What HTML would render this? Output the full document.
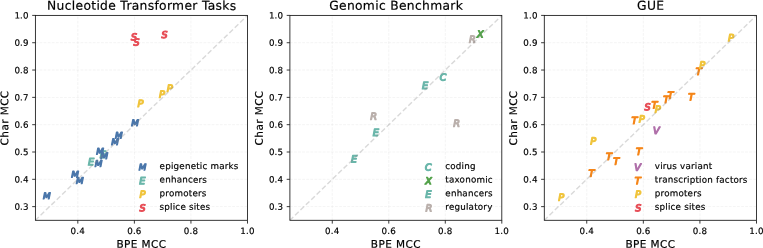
<!DOCTYPE html>
<html lang="en"><head><meta charset="utf-8"><title>MCC comparison</title>
<style>.cM{fill:#4a76aa;stroke:#4a76aa}.cE{fill:#6ab6aa;stroke:#6ab6aa}.cP{fill:#f0c43c;stroke:#f0c43c}.cS{fill:#e74f58;stroke:#e74f58}.cC{fill:#6ab6aa;stroke:#6ab6aa}.cX{fill:#54a24b;stroke:#54a24b}.cR{fill:#bab0ac;stroke:#bab0ac}.cT{fill:#f58518;stroke:#f58518}.cV{fill:#b070aa;stroke:#b070aa}</style>
<style>html,body{margin:0;padding:0;background:#fff}svg{display:block}text{font-family:"DejaVu Sans","Liberation Sans",sans-serif;fill:#000}.tk,.lg,.ti,.lb{stroke:#000;stroke-width:.18px}.tk{font-size:8.7px;letter-spacing:0.2px}.lg{font-size:8.75px;letter-spacing:0.2px}.ti{font-size:12.3px;letter-spacing:0.32px}.lb{font-size:10.5px;letter-spacing:0.4px}.mk{font-style:oblique;stroke-width:1.2;stroke-linejoin:round}.sp{fill:none;stroke:#161616;stroke-width:0.85}.gr{stroke:#c0c0c0;stroke-width:0.7;stroke-dasharray:2.8 1.3;opacity:0.25}.tkm{stroke:#161616;stroke-width:0.85}.dg{stroke:rgba(128,128,128,0.30);stroke-width:1.4;stroke-dasharray:5.0 2.5;fill:none}</style></head><body>
<svg width="763" height="248" viewBox="0 0 763 248">
<rect width="763" height="248" fill="#fff"/>
<g>
<line class="gr" x1="77.82" x2="77.82" y1="220.30" y2="15.40"/>
<line class="gr" x1="134.38" x2="134.38" y1="220.30" y2="15.40"/>
<line class="gr" x1="190.94" x2="190.94" y1="220.30" y2="15.40"/>
<line class="gr" x1="35.40" x2="247.50" y1="206.64" y2="206.64"/>
<line class="gr" x1="35.40" x2="247.50" y1="179.32" y2="179.32"/>
<line class="gr" x1="35.40" x2="247.50" y1="152.00" y2="152.00"/>
<line class="gr" x1="35.40" x2="247.50" y1="124.68" y2="124.68"/>
<line class="gr" x1="35.40" x2="247.50" y1="97.36" y2="97.36"/>
<line class="gr" x1="35.40" x2="247.50" y1="70.04" y2="70.04"/>
<line class="gr" x1="35.40" x2="247.50" y1="42.72" y2="42.72"/>
<text class="mk cE" transform="translate(88.08 165.17) skewY(0.05)" font-size="9.81">E</text>
<text class="mk cE" transform="translate(99.68 157.88) skewY(0.05)" font-size="9.81">E</text>
<text class="mk cM" transform="translate(42.89 198.92) skewY(0.05)" font-size="8.84">M</text>
<text class="mk cM" transform="translate(71.19 177.42) skewY(0.05)" font-size="8.84">M</text>
<text class="mk cM" transform="translate(75.99 183.72) skewY(0.05)" font-size="8.84">M</text>
<text class="mk cM" transform="translate(94.79 166.82) skewY(0.05)" font-size="8.84">M</text>
<text class="mk cM" transform="translate(96.29 154.42) skewY(0.05)" font-size="8.84">M</text>
<text class="mk cM" transform="translate(100.49 159.12) skewY(0.05)" font-size="8.84">M</text>
<text class="mk cM" transform="translate(111.29 145.02) skewY(0.05)" font-size="8.84">M</text>
<text class="mk cM" transform="translate(114.89 138.52) skewY(0.05)" font-size="8.84">M</text>
<text class="mk cM" transform="translate(131.19 125.92) skewY(0.05)" font-size="8.84">M</text>
<text class="mk cP" transform="translate(137.62 106.98) skewY(0.05)" font-size="9.81">P</text>
<text class="mk cP" transform="translate(159.02 97.78) skewY(0.05)" font-size="9.81">P</text>
<text class="mk cP" transform="translate(166.82 91.78) skewY(0.05)" font-size="9.81">P</text>
<text class="mk cS" transform="translate(131.12 40.34) skewY(0.05)" font-size="9.45">S</text>
<text class="mk cS" transform="translate(133.62 45.44) skewY(0.05)" font-size="9.45">S</text>
<text class="mk cS" transform="translate(161.42 37.94) skewY(0.05)" font-size="9.45">S</text>
<line class="dg" x1="35.40" y1="220.30" x2="247.50" y2="15.40" stroke-dashoffset="0.3"/>
<rect class="sp" x="35.40" y="15.40" width="212.10" height="204.90"/>
<line class="tkm" x1="77.82" x2="77.82" y1="220.30" y2="223.60"/>
<text class="tk" transform="translate(77.82 234.00) skewY(0.05)" text-anchor="middle">0.4</text>
<line class="tkm" x1="134.38" x2="134.38" y1="220.30" y2="223.60"/>
<text class="tk" transform="translate(134.38 234.00) skewY(0.05)" text-anchor="middle">0.6</text>
<line class="tkm" x1="190.94" x2="190.94" y1="220.30" y2="223.60"/>
<text class="tk" transform="translate(190.94 234.00) skewY(0.05)" text-anchor="middle">0.8</text>
<line class="tkm" x1="247.50" x2="247.50" y1="220.30" y2="223.60"/>
<text class="tk" transform="translate(247.50 234.00) skewY(0.05)" text-anchor="middle">1.0</text>
<line class="tkm" x1="32.20" x2="35.40" y1="206.64" y2="206.64"/>
<text class="tk" transform="translate(28.80 209.74) skewY(0.05)" text-anchor="end">0.3</text>
<line class="tkm" x1="32.20" x2="35.40" y1="179.32" y2="179.32"/>
<text class="tk" transform="translate(28.80 182.42) skewY(0.05)" text-anchor="end">0.4</text>
<line class="tkm" x1="32.20" x2="35.40" y1="152.00" y2="152.00"/>
<text class="tk" transform="translate(28.80 155.10) skewY(0.05)" text-anchor="end">0.5</text>
<line class="tkm" x1="32.20" x2="35.40" y1="124.68" y2="124.68"/>
<text class="tk" transform="translate(28.80 127.78) skewY(0.05)" text-anchor="end">0.6</text>
<line class="tkm" x1="32.20" x2="35.40" y1="97.36" y2="97.36"/>
<text class="tk" transform="translate(28.80 100.46) skewY(0.05)" text-anchor="end">0.7</text>
<line class="tkm" x1="32.20" x2="35.40" y1="70.04" y2="70.04"/>
<text class="tk" transform="translate(28.80 73.14) skewY(0.05)" text-anchor="end">0.8</text>
<line class="tkm" x1="32.20" x2="35.40" y1="42.72" y2="42.72"/>
<text class="tk" transform="translate(28.80 45.82) skewY(0.05)" text-anchor="end">0.9</text>
<line class="tkm" x1="32.20" x2="35.40" y1="15.40" y2="15.40"/>
<text class="tk" transform="translate(28.80 18.50) skewY(0.05)" text-anchor="end">1.0</text>
<text class="lb" transform="translate(141.45 247.70) skewY(0.05)" text-anchor="middle">BPE MCC</text>
<text class="lb" transform="translate(8.20 117.90) rotate(-90) skewY(0.05)" text-anchor="middle">Char MCC</text>
<text class="ti" transform="translate(141.75 9.80) skewY(0.05)" text-anchor="middle">Nucleotide Transformer Tasks</text>
<text class="mk cM" transform="translate(138.69 170.32) skewY(0.05)" font-size="8.84">M</text>
<text class="lg" transform="translate(159.60 169.00) skewY(0.05)" text-anchor="start">epigenetic marks</text>
<text class="mk cE" transform="translate(139.28 184.27) skewY(0.05)" font-size="9.81">E</text>
<text class="lg" transform="translate(159.60 182.60) skewY(0.05)" text-anchor="start">enhancers</text>
<text class="mk cP" transform="translate(139.42 197.87) skewY(0.05)" font-size="9.81">P</text>
<text class="lg" transform="translate(159.60 196.20) skewY(0.05)" text-anchor="start">promoters</text>
<text class="mk cS" transform="translate(139.62 211.34) skewY(0.05)" font-size="9.45">S</text>
<text class="lg" transform="translate(159.60 209.80) skewY(0.05)" text-anchor="start">splice sites</text>
</g>
<g>
<line class="gr" x1="332.28" x2="332.28" y1="220.30" y2="15.40"/>
<line class="gr" x1="388.79" x2="388.79" y1="220.30" y2="15.40"/>
<line class="gr" x1="445.29" x2="445.29" y1="220.30" y2="15.40"/>
<line class="gr" x1="289.90" x2="501.80" y1="206.64" y2="206.64"/>
<line class="gr" x1="289.90" x2="501.80" y1="179.32" y2="179.32"/>
<line class="gr" x1="289.90" x2="501.80" y1="152.00" y2="152.00"/>
<line class="gr" x1="289.90" x2="501.80" y1="124.68" y2="124.68"/>
<line class="gr" x1="289.90" x2="501.80" y1="97.36" y2="97.36"/>
<line class="gr" x1="289.90" x2="501.80" y1="70.04" y2="70.04"/>
<line class="gr" x1="289.90" x2="501.80" y1="42.72" y2="42.72"/>
<text class="mk cC" transform="translate(439.72 80.54) skewY(0.05)" font-size="9.45">C</text>
<text class="mk cX" transform="translate(476.94 37.39) skewY(0.05)" font-size="9.58">X</text>
<text class="mk cE" transform="translate(422.08 89.08) skewY(0.05)" font-size="9.81">E</text>
<text class="mk cE" transform="translate(372.78 136.07) skewY(0.05)" font-size="9.81">E</text>
<text class="mk cE" transform="translate(350.98 162.57) skewY(0.05)" font-size="9.81">E</text>
<text class="mk cR" transform="translate(469.03 42.78) skewY(0.05)" font-size="9.81">R</text>
<text class="mk cR" transform="translate(370.23 119.67) skewY(0.05)" font-size="9.81">R</text>
<text class="mk cR" transform="translate(453.23 126.67) skewY(0.05)" font-size="9.81">R</text>
<line class="dg" x1="289.90" y1="220.30" x2="501.80" y2="15.40" stroke-dashoffset="0.3"/>
<rect class="sp" x="289.90" y="15.40" width="211.90" height="204.90"/>
<line class="tkm" x1="332.28" x2="332.28" y1="220.30" y2="223.60"/>
<text class="tk" transform="translate(332.28 234.00) skewY(0.05)" text-anchor="middle">0.4</text>
<line class="tkm" x1="388.79" x2="388.79" y1="220.30" y2="223.60"/>
<text class="tk" transform="translate(388.79 234.00) skewY(0.05)" text-anchor="middle">0.6</text>
<line class="tkm" x1="445.29" x2="445.29" y1="220.30" y2="223.60"/>
<text class="tk" transform="translate(445.29 234.00) skewY(0.05)" text-anchor="middle">0.8</text>
<line class="tkm" x1="501.80" x2="501.80" y1="220.30" y2="223.60"/>
<text class="tk" transform="translate(501.80 234.00) skewY(0.05)" text-anchor="middle">1.0</text>
<line class="tkm" x1="286.70" x2="289.90" y1="206.64" y2="206.64"/>
<text class="tk" transform="translate(283.30 209.74) skewY(0.05)" text-anchor="end">0.3</text>
<line class="tkm" x1="286.70" x2="289.90" y1="179.32" y2="179.32"/>
<text class="tk" transform="translate(283.30 182.42) skewY(0.05)" text-anchor="end">0.4</text>
<line class="tkm" x1="286.70" x2="289.90" y1="152.00" y2="152.00"/>
<text class="tk" transform="translate(283.30 155.10) skewY(0.05)" text-anchor="end">0.5</text>
<line class="tkm" x1="286.70" x2="289.90" y1="124.68" y2="124.68"/>
<text class="tk" transform="translate(283.30 127.78) skewY(0.05)" text-anchor="end">0.6</text>
<line class="tkm" x1="286.70" x2="289.90" y1="97.36" y2="97.36"/>
<text class="tk" transform="translate(283.30 100.46) skewY(0.05)" text-anchor="end">0.7</text>
<line class="tkm" x1="286.70" x2="289.90" y1="70.04" y2="70.04"/>
<text class="tk" transform="translate(283.30 73.14) skewY(0.05)" text-anchor="end">0.8</text>
<line class="tkm" x1="286.70" x2="289.90" y1="42.72" y2="42.72"/>
<text class="tk" transform="translate(283.30 45.82) skewY(0.05)" text-anchor="end">0.9</text>
<line class="tkm" x1="286.70" x2="289.90" y1="15.40" y2="15.40"/>
<text class="tk" transform="translate(283.30 18.50) skewY(0.05)" text-anchor="end">1.0</text>
<text class="lb" transform="translate(395.85 247.70) skewY(0.05)" text-anchor="middle">BPE MCC</text>
<text class="lb" transform="translate(262.70 117.90) rotate(-90) skewY(0.05)" text-anchor="middle">Char MCC</text>
<text class="ti" transform="translate(396.15 9.80) skewY(0.05)" text-anchor="middle">Genomic Benchmark</text>
<text class="mk cC" transform="translate(425.02 170.54) skewY(0.05)" font-size="9.45">C</text>
<text class="lg" transform="translate(445.30 169.00) skewY(0.05)" text-anchor="start">coding</text>
<text class="mk cX" transform="translate(425.34 184.19) skewY(0.05)" font-size="9.58">X</text>
<text class="lg" transform="translate(445.30 182.60) skewY(0.05)" text-anchor="start">taxonomic</text>
<text class="mk cE" transform="translate(425.28 197.87) skewY(0.05)" font-size="9.81">E</text>
<text class="lg" transform="translate(445.30 196.20) skewY(0.05)" text-anchor="start">enhancers</text>
<text class="mk cR" transform="translate(425.43 211.47) skewY(0.05)" font-size="9.81">R</text>
<text class="lg" transform="translate(445.30 209.80) skewY(0.05)" text-anchor="start">regulatory</text>
</g>
<g>
<line class="gr" x1="586.74" x2="586.74" y1="220.30" y2="15.40"/>
<line class="gr" x1="643.33" x2="643.33" y1="220.30" y2="15.40"/>
<line class="gr" x1="699.91" x2="699.91" y1="220.30" y2="15.40"/>
<line class="gr" x1="544.30" x2="756.50" y1="206.64" y2="206.64"/>
<line class="gr" x1="544.30" x2="756.50" y1="179.32" y2="179.32"/>
<line class="gr" x1="544.30" x2="756.50" y1="152.00" y2="152.00"/>
<line class="gr" x1="544.30" x2="756.50" y1="124.68" y2="124.68"/>
<line class="gr" x1="544.30" x2="756.50" y1="97.36" y2="97.36"/>
<line class="gr" x1="544.30" x2="756.50" y1="70.04" y2="70.04"/>
<line class="gr" x1="544.30" x2="756.50" y1="42.72" y2="42.72"/>
<text class="mk cV" transform="translate(652.98 134.07) skewY(0.05)" font-size="9.81">V</text>
<text class="mk cT" transform="translate(631.38 124.08) skewY(0.05)" font-size="9.81">T</text>
<text class="mk cT" transform="translate(651.38 108.58) skewY(0.05)" font-size="9.81">T</text>
<text class="mk cT" transform="translate(663.18 103.08) skewY(0.05)" font-size="9.81">T</text>
<text class="mk cT" transform="translate(667.38 98.67) skewY(0.05)" font-size="9.81">T</text>
<text class="mk cT" transform="translate(688.18 100.58) skewY(0.05)" font-size="9.81">T</text>
<text class="mk cT" transform="translate(695.78 75.08) skewY(0.05)" font-size="9.81">T</text>
<text class="mk cT" transform="translate(635.98 155.07) skewY(0.05)" font-size="9.81">T</text>
<text class="mk cT" transform="translate(588.38 176.77) skewY(0.05)" font-size="9.81">T</text>
<text class="mk cT" transform="translate(605.88 159.88) skewY(0.05)" font-size="9.81">T</text>
<text class="mk cT" transform="translate(613.28 164.67) skewY(0.05)" font-size="9.81">T</text>
<text class="mk cP" transform="translate(638.72 122.48) skewY(0.05)" font-size="9.81">P</text>
<text class="mk cP" transform="translate(654.82 112.78) skewY(0.05)" font-size="9.81">P</text>
<text class="mk cP" transform="translate(699.22 68.48) skewY(0.05)" font-size="9.81">P</text>
<text class="mk cP" transform="translate(727.92 41.28) skewY(0.05)" font-size="9.81">P</text>
<text class="mk cP" transform="translate(590.32 144.38) skewY(0.05)" font-size="9.81">P</text>
<text class="mk cP" transform="translate(558.32 200.67) skewY(0.05)" font-size="9.81">P</text>
<text class="mk cS" transform="translate(644.42 110.34) skewY(0.05)" font-size="9.45">S</text>
<line class="dg" x1="544.30" y1="220.30" x2="756.50" y2="15.40" stroke-dashoffset="0.3"/>
<rect class="sp" x="544.30" y="15.40" width="212.20" height="204.90"/>
<line class="tkm" x1="586.74" x2="586.74" y1="220.30" y2="223.60"/>
<text class="tk" transform="translate(586.74 234.00) skewY(0.05)" text-anchor="middle">0.4</text>
<line class="tkm" x1="643.33" x2="643.33" y1="220.30" y2="223.60"/>
<text class="tk" transform="translate(643.33 234.00) skewY(0.05)" text-anchor="middle">0.6</text>
<line class="tkm" x1="699.91" x2="699.91" y1="220.30" y2="223.60"/>
<text class="tk" transform="translate(699.91 234.00) skewY(0.05)" text-anchor="middle">0.8</text>
<line class="tkm" x1="756.50" x2="756.50" y1="220.30" y2="223.60"/>
<text class="tk" transform="translate(756.50 234.00) skewY(0.05)" text-anchor="middle">1.0</text>
<line class="tkm" x1="541.10" x2="544.30" y1="206.64" y2="206.64"/>
<text class="tk" transform="translate(537.70 209.74) skewY(0.05)" text-anchor="end">0.3</text>
<line class="tkm" x1="541.10" x2="544.30" y1="179.32" y2="179.32"/>
<text class="tk" transform="translate(537.70 182.42) skewY(0.05)" text-anchor="end">0.4</text>
<line class="tkm" x1="541.10" x2="544.30" y1="152.00" y2="152.00"/>
<text class="tk" transform="translate(537.70 155.10) skewY(0.05)" text-anchor="end">0.5</text>
<line class="tkm" x1="541.10" x2="544.30" y1="124.68" y2="124.68"/>
<text class="tk" transform="translate(537.70 127.78) skewY(0.05)" text-anchor="end">0.6</text>
<line class="tkm" x1="541.10" x2="544.30" y1="97.36" y2="97.36"/>
<text class="tk" transform="translate(537.70 100.46) skewY(0.05)" text-anchor="end">0.7</text>
<line class="tkm" x1="541.10" x2="544.30" y1="70.04" y2="70.04"/>
<text class="tk" transform="translate(537.70 73.14) skewY(0.05)" text-anchor="end">0.8</text>
<line class="tkm" x1="541.10" x2="544.30" y1="42.72" y2="42.72"/>
<text class="tk" transform="translate(537.70 45.82) skewY(0.05)" text-anchor="end">0.9</text>
<line class="tkm" x1="541.10" x2="544.30" y1="15.40" y2="15.40"/>
<text class="tk" transform="translate(537.70 18.50) skewY(0.05)" text-anchor="end">1.0</text>
<text class="lb" transform="translate(650.40 247.70) skewY(0.05)" text-anchor="middle">BPE MCC</text>
<text class="lb" transform="translate(517.10 117.90) rotate(-90) skewY(0.05)" text-anchor="middle">Char MCC</text>
<text class="ti" transform="translate(650.70 9.80) skewY(0.05)" text-anchor="middle">GUE</text>
<text class="mk cV" transform="translate(634.18 170.67) skewY(0.05)" font-size="9.81">V</text>
<text class="lg" transform="translate(654.80 169.00) skewY(0.05)" text-anchor="start">virus variant</text>
<text class="mk cT" transform="translate(634.68 184.27) skewY(0.05)" font-size="9.81">T</text>
<text class="lg" transform="translate(654.80 182.60) skewY(0.05)" text-anchor="start">transcription factors</text>
<text class="mk cP" transform="translate(635.12 197.87) skewY(0.05)" font-size="9.81">P</text>
<text class="lg" transform="translate(654.80 196.20) skewY(0.05)" text-anchor="start">promoters</text>
<text class="mk cS" transform="translate(635.32 211.34) skewY(0.05)" font-size="9.45">S</text>
<text class="lg" transform="translate(654.80 209.80) skewY(0.05)" text-anchor="start">splice sites</text>
</g>
</svg></body></html>
